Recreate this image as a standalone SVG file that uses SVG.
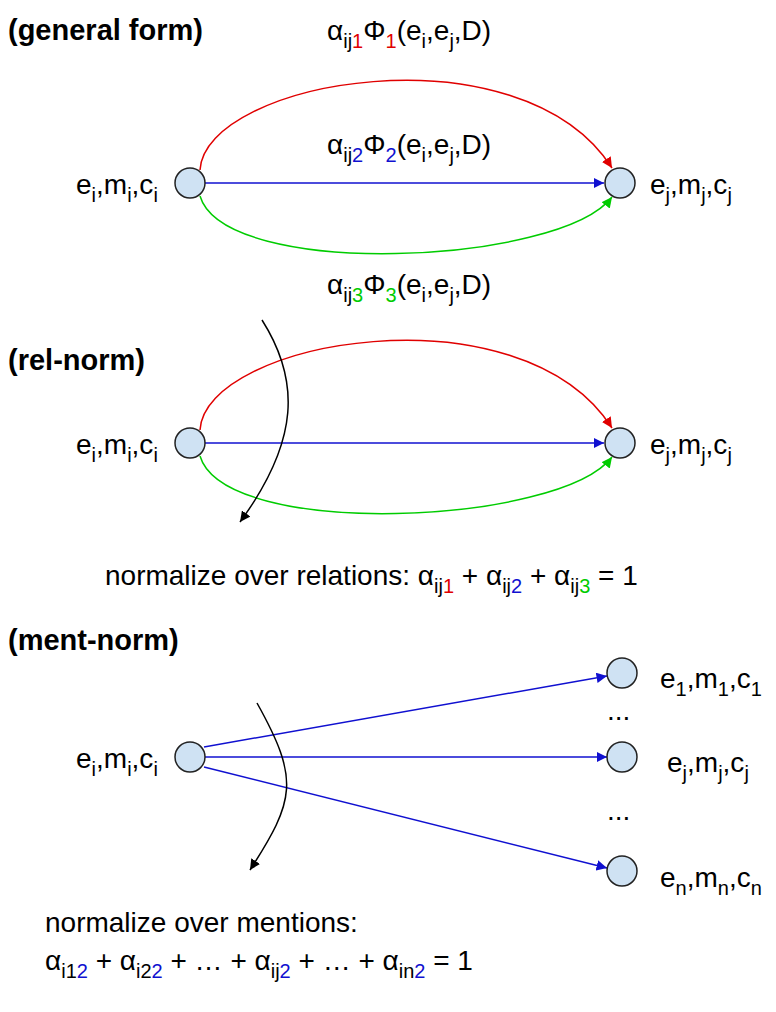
<svg xmlns="http://www.w3.org/2000/svg" width="776" height="1012" viewBox="0 0 776 1012">
<defs>
<style>
text{font-family:"Liberation Sans",Arial,sans-serif;font-size:28px;fill:#000}
.h{font-weight:bold;font-size:29px}
.s{font-size:20px;baseline-shift:-8px}
.r{fill:#e00000}.b{fill:#1010d0}.g{fill:#00cc00}
circle{fill:#cfe2f3;stroke:#222;stroke-width:1.5}
.c{fill:none;stroke-width:1.5}
</style>
<marker id="ar" viewBox="0 0 10 10" refX="10" refY="5" markerWidth="7" markerHeight="7" orient="auto"><path d="M0,0L10,5L0,10z" fill="#e00000"/></marker>
<marker id="ab" viewBox="0 0 10 10" refX="10" refY="5" markerWidth="7" markerHeight="7" orient="auto"><path d="M0,0L10,5L0,10z" fill="#1010d0"/></marker>
<marker id="ag" viewBox="0 0 10 10" refX="10" refY="5" markerWidth="7" markerHeight="7" orient="auto"><path d="M0,0L10,5L0,10z" fill="#00cc00"/></marker>
<marker id="ak" viewBox="0 0 10 10" refX="10" refY="5" markerWidth="7" markerHeight="7" orient="auto"><path d="M0,0L10,5L0,10z" fill="#000"/></marker>
</defs>
<text class="h" x="8" y="40">(general form)</text>
<text class="h" x="8" y="370">(rel-norm)</text>
<text class="h" x="8" y="650">(ment-norm)</text>
<g id="connectors">
<path class="c" d="M200,170 C205,80 520,25 612,168" stroke="#e00000" marker-end="url(#ar)"/>
<line class="c" x1="205" y1="183" x2="604" y2="183" stroke="#1010d0" marker-end="url(#ab)"/>
<path class="c" d="M200,196 C225,280 560,265 612,197" stroke="#00cc00" marker-end="url(#ag)"/>
<path class="c" d="M200,430 C205,340 520,285 612,428" stroke="#e00000" marker-end="url(#ar)"/>
<line class="c" x1="205" y1="443" x2="604" y2="443" stroke="#1010d0" marker-end="url(#ab)"/>
<path class="c" d="M200,456 C225,540 560,525 612,457" stroke="#00cc00" marker-end="url(#ag)"/>
<path class="c" d="M262,320 C300,380 300,440 240,522" stroke="#000" marker-end="url(#ak)"/>
<line class="c" x1="204" y1="747" x2="607" y2="676" stroke="#1010d0" marker-end="url(#ab)"/>
<line class="c" x1="205" y1="757" x2="607" y2="757" stroke="#1010d0" marker-end="url(#ab)"/>
<line class="c" x1="204" y1="767" x2="607" y2="868" stroke="#1010d0" marker-end="url(#ab)"/>
<path class="c" d="M257,703 C300,780 295,800 250,870" stroke="#000" marker-end="url(#ak)"/>
</g>
<g id="labels">
<text x="327" y="40">α<tspan class="s">ij</tspan><tspan class="s r">1</tspan>Φ<tspan class="s r">1</tspan>(e<tspan class="s">i</tspan>,e<tspan class="s">j</tspan>,D)</text>
<text x="327" y="154">α<tspan class="s">ij</tspan><tspan class="s b">2</tspan>Φ<tspan class="s b">2</tspan>(e<tspan class="s">i</tspan>,e<tspan class="s">j</tspan>,D)</text>
<text x="327" y="294">α<tspan class="s">ij</tspan><tspan class="s g">3</tspan>Φ<tspan class="s g">3</tspan>(e<tspan class="s">i</tspan>,e<tspan class="s">j</tspan>,D)</text>
<text x="105" y="585">normalize over relations: α<tspan class="s">ij</tspan><tspan class="s r">1</tspan> + α<tspan class="s">ij</tspan><tspan class="s b">2</tspan> + α<tspan class="s">ij</tspan><tspan class="s g">3</tspan> = 1</text>
<text x="45" y="932">normalize over mentions:</text>
<text x="45" y="970">α<tspan class="s">i1</tspan><tspan class="s b">2</tspan> + α<tspan class="s">i2</tspan><tspan class="s b">2</tspan> + … + α<tspan class="s">ij</tspan><tspan class="s b">2</tspan> + … + α<tspan class="s">in</tspan><tspan class="s b">2</tspan> = 1</text>
<text x="607" y="720">...</text>
<text x="607" y="820">...</text>
</g>
<g id="n1"><circle cx="190" cy="183" r="15"/><text x="76" y="194">e<tspan class="s">i</tspan>,m<tspan class="s">i</tspan>,c<tspan class="s">i</tspan></text></g>
<g id="n2"><circle cx="620" cy="183" r="15"/><text x="650" y="194">e<tspan class="s">j</tspan>,m<tspan class="s">j</tspan>,c<tspan class="s">j</tspan></text></g>
<g id="n3"><circle cx="190" cy="443" r="15"/><text x="76" y="454">e<tspan class="s">i</tspan>,m<tspan class="s">i</tspan>,c<tspan class="s">i</tspan></text></g>
<g id="n4"><circle cx="620" cy="443" r="15"/><text x="650" y="454">e<tspan class="s">j</tspan>,m<tspan class="s">j</tspan>,c<tspan class="s">j</tspan></text></g>
<g id="n5"><circle cx="190" cy="757" r="15"/><text x="76" y="768">e<tspan class="s">i</tspan>,m<tspan class="s">i</tspan>,c<tspan class="s">i</tspan></text></g>
<g id="n6"><circle cx="622" cy="673" r="15"/><text x="660" y="688">e<tspan class="s">1</tspan>,m<tspan class="s">1</tspan>,c<tspan class="s">1</tspan></text></g>
<g id="n7"><circle cx="622" cy="757" r="15"/><text x="667" y="772">e<tspan class="s">j</tspan>,m<tspan class="s">j</tspan>,c<tspan class="s">j</tspan></text></g>
<g id="n8"><circle cx="622" cy="871" r="15"/><text x="660" y="887">e<tspan class="s">n</tspan>,m<tspan class="s">n</tspan>,c<tspan class="s">n</tspan></text></g>
</svg>
